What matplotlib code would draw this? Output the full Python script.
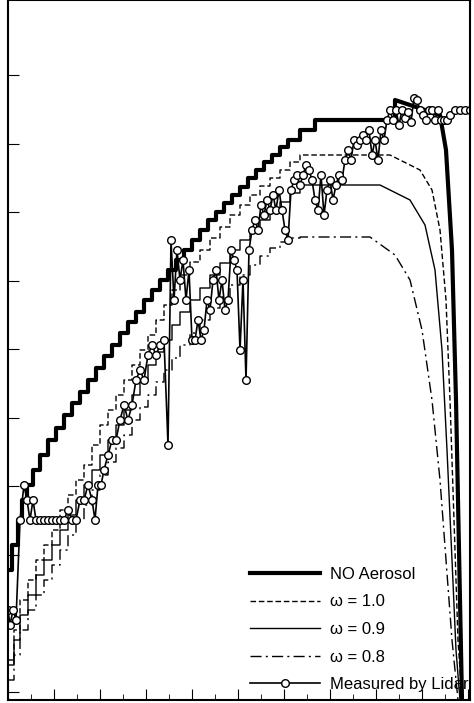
import matplotlib
matplotlib.use("Agg")
import matplotlib.pyplot as plt
import numpy as np

plt.rcParams['font.family'] = ['Liberation Sans', 'DejaVu Sans']

# values (x position, height in image units; larger = lower)
# rising (stepped) part, then falling tail
no_x = [8,12,18,22,27,33,40,48,56,64,72,80,88,96,104,112,120,128,136,144,152,160,168,176,184,192,200,208,216,224,232,240,248,256,264,272,280,288,300,315,395]
no_y = [570,545,520,500,485,470,455,440,428,415,403,392,380,368,356,345,333,322,312,300,290,280,270,260,250,240,230,220,212,203,195,187,178,170,162,155,147,140,130,120,100]
no_tx = [395,440,446,452,456,459,462]
no_ty = [105,115,150,250,400,550,700]

w10_x = [8,14,20,28,36,44,52,60,68,76,84,92,100,108,116,124,132,140,148,156,164,172,180,190,200,210,220,230,240,250,260,270,280,290,300]
w10_y = [660,630,600,580,560,545,530,510,495,480,465,445,425,410,395,380,365,350,335,320,305,290,275,262,250,238,227,215,205,195,186,178,170,162,155]
w10_tx = [300,390,420,432,440,446,450,454,458,462]
w10_ty = [155,155,170,190,230,300,400,520,640,700]

w09_x = [8,14,20,28,36,44,52,60,68,76,84,92,100,108,116,124,132,140,148,156,164,172,180,190,200,210,220,230,240,250,260,270,280,290,300]
w09_y = [665,640,615,595,575,560,545,530,515,500,485,470,455,440,425,410,395,380,365,352,340,325,312,300,288,275,263,250,240,230,220,210,202,193,185]
w09_tx = [300,380,410,425,435,442,447,452,456,460]
w09_ty = [185,185,200,225,270,350,450,560,650,700]

w08_x = [8,14,20,28,36,44,52,60,68,76,84,92,100,108,116,124,132,140,148,156,164,172,180,190,200,210,220,230,240,250,260,270,280,290,300]
w08_y = [680,655,630,610,595,580,565,550,535,520,505,490,475,462,448,435,420,407,395,382,370,358,345,333,320,308,297,285,275,265,256,248,242,238,237]
w08_tx = [300,370,395,410,422,432,440,446,452,458]
w08_ty = [237,237,255,280,330,400,480,560,640,700]

lidar_x = [8,10,13,16,20,24,27,30,33,36,40,44,48,52,56,60,64,68,72,76,80,84,88,92,95,98,101,104,108,112,116,120,124,128,132,136,140,144,148,152,156,160,164,168,171,174,177,180,183,186,189,192,195,198,201,204,207,210,213,216,219,222,225,228,231,234,237,240,243,246,249,252,255,258,261,264,267,270,273,276,279,282,285,288,291,294,297,300,303,306,309,312,315,318,321,324,327,330,333,336,339,342,345,348,351,354,357,360,363,366,369,372,375,378,381,384,387,390,393,396,399,402,405,408,411,414,417,420,423,426,429,432,435,438,441,444,447,450,455,460,465,470]
lidar_y = [610,625,610,620,520,485,500,520,500,520,520,520,520,520,520,520,520,510,520,520,500,500,485,500,520,485,485,470,455,440,440,420,405,420,405,380,370,380,355,345,355,345,340,445,240,300,250,280,260,300,270,340,340,320,340,330,300,310,280,270,300,280,310,300,250,260,270,350,280,380,250,230,220,230,205,215,200,210,195,210,190,210,230,240,190,180,175,185,175,165,170,180,200,210,175,215,190,180,200,185,175,180,160,150,160,140,145,140,135,140,130,155,140,160,130,140,120,110,120,110,125,110,118,112,122,98,100,110,115,120,110,110,120,110,120,120,120,115,110,110,110,110]


def stepped(xs, ys, tx, ty):
    X, Y = [], []
    for i in range(len(xs)):
        X.append(xs[i]); Y.append(ys[i])
        nxt = xs[i + 1] if i + 1 < len(xs) else tx[0]
        X.append(nxt); Y.append(ys[i])
    X += list(tx[1:]); Y += list(ty[1:])
    return X, Y


fig = plt.figure(figsize=(4.74, 7.03), dpi=100)
ax = fig.add_axes([8/474, 3/703, 462/474, 700/703])
ax.plot(*stepped(no_x, no_y, no_tx, no_ty), color="black", lw=3, label="NO Aerosol")
ax.plot(*stepped(w10_x, w10_y, w10_tx, w10_ty), color="black", lw=1, ls=(0, (4, 2)), label="ω = 1.0")
ax.plot(*stepped(w09_x, w09_y, w09_tx, w09_ty), color="black", lw=1, label="ω = 0.9")
ax.plot(*stepped(w08_x, w08_y, w08_tx, w08_ty), color="black", lw=1, ls=(0, (8, 3, 1.5, 3)), label="ω = 0.8")
ax.plot(lidar_x, lidar_y, color="black", lw=1.2, marker="o", ms=5.5, mfc="white", mec="black",
        mew=1, label="Measured by Lidar")
ax.set_xlim(8, 470)
ax.set_ylim(700, 0)
ax.set_yticks(np.arange(75, 700, 68.5))
ax.set_xticks(np.arange(8, 470, 46))
ax.set_xticks(np.arange(8, 470, 23), minor=True)
ax.tick_params(axis="both", which="both", direction="in", labelleft=False, labelbottom=False)
ax.tick_params(axis="both", which="major", length=8)
ax.tick_params(axis="both", which="minor", length=4)
for s in ax.spines.values():
    s.set_linewidth(1.5)
ax.legend(loc="lower right", bbox_to_anchor=(1.03, -0.01), frameon=False, fontsize=12,
          handlelength=4.2, labelspacing=0.75, handletextpad=0.6)
fig.savefig("out.png", dpi=100)
